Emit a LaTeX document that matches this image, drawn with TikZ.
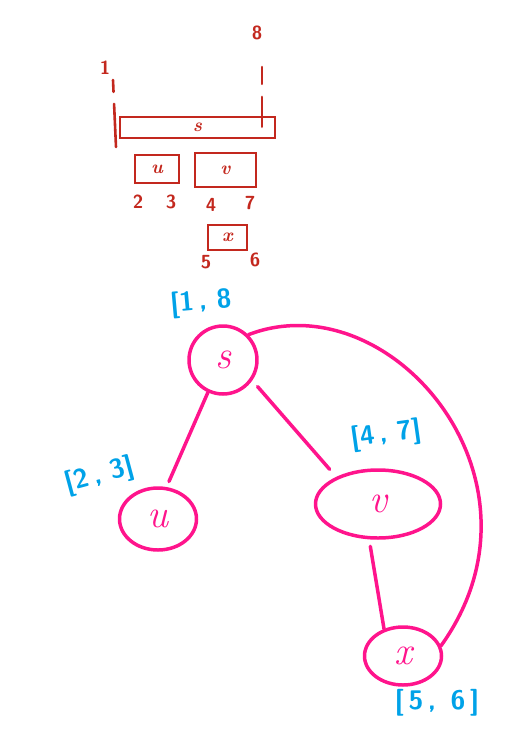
\documentclass[tikz,border=0pt]{standalone}
\usetikzlibrary{shapes.geometric}
\definecolor{ink}{RGB}{195,40,30}
\definecolor{marker}{RGB}{255,20,140}
\definecolor{stamp}{RGB}{0,162,232}
\tikzset{
  interval/.style={draw=ink, line width=2.6pt, inner sep=0pt, text=ink,
    font=\itshape\bfseries\fontsize{19}{19}\selectfont},
  time/.style={text=ink, inner sep=1pt, font=\sffamily\bfseries\fontsize{19}{19}\selectfont},
  tick/.style={draw=ink, line width=2.6pt, line cap=round},
  vertex/.style={draw=marker, line width=3.5pt, ellipse, inner sep=0pt, text=marker,
    font=\itshape\fontsize{40}{40}\selectfont},
  edge/.style={draw=marker, line width=3.5pt, line cap=round},
  stamp/.style={text=stamp, inner sep=1pt, font=\sffamily\bfseries\fontsize{27}{27}\selectfont}
}
\begin{document}
\begin{tikzpicture}[x=1bp,y=-1bp]
\useasboundingbox (0,0) rectangle (527,751);

% discovery / finish times of s
\node[time] (one) at (105,68) {1};
\node[time] (eight) at (257,33) {8};
\coordinate (oneTop) at (113,80);
\coordinate (oneLow) at (116,147);
\coordinate (eightTop) at (262,67);
\coordinate (eightLow) at (262,127);
\draw[tick, dash pattern=on 12pt off 12pt on 44pt] (oneTop) -- (oneLow);
\draw[tick, dash pattern=on 17pt off 13pt on 30pt] (eightTop) -- (eightLow);

% nested intervals
\node[interval, minimum width=155bp, minimum height=21bp] (sbox) at (197.5,127.5) {s};
\node[interval, minimum width=44bp, minimum height=28bp] (ubox) at (157,169) {u};
\node[interval, minimum width=61bp, minimum height=34bp] (vbox) at (225.5,170) {v};
\node[interval, minimum width=39bp, minimum height=25bp] (xbox) at (227.5,237.5) {x};

\node[time] (two) at (138,202) {2};
\node[time] (three) at (171,202) {3};
\node[time] (four) at (211,205) {4};
\node[time] (seven) at (250,203) {7};
\node[time] (five) at (206,262) {5};
\node[time] (six) at (255,260) {6};

% DFS tree
\node[vertex, circle, minimum size=68bp] (s) at (223,360) {s};
\node[vertex, minimum width=77bp, minimum height=62bp] (u) at (158,519) {u};
\node[vertex, minimum width=125bp, minimum height=68bp] (v) at (378,504) {v};
\node[vertex, minimum width=77bp, minimum height=58bp] (x) at (403,656) {x};

\draw[edge, shorten >=6bp] (s.245) -- (u.75);
\draw[edge, shorten <=8bp, shorten >=10bp] (s.325) -- (v.147);
\draw[edge, shorten <=7bp] (v.256) -- (x.125);
\draw[edge] (s.45) .. controls (390,280) and (560,480) .. (x.15);

% time stamps
\node[stamp, rotate=5] (stime) at (201,303) {[1\,, 8};
\node[stamp, rotate=15] (utime) at (100,476) {[2\,, 3]};
\node[stamp, rotate=8] (vtime) at (386,435) {[4\,, 7]};
\node[stamp] (xtime) at (437,703) {[\,5\,, \,6\,]};

\end{tikzpicture}
\end{document}
